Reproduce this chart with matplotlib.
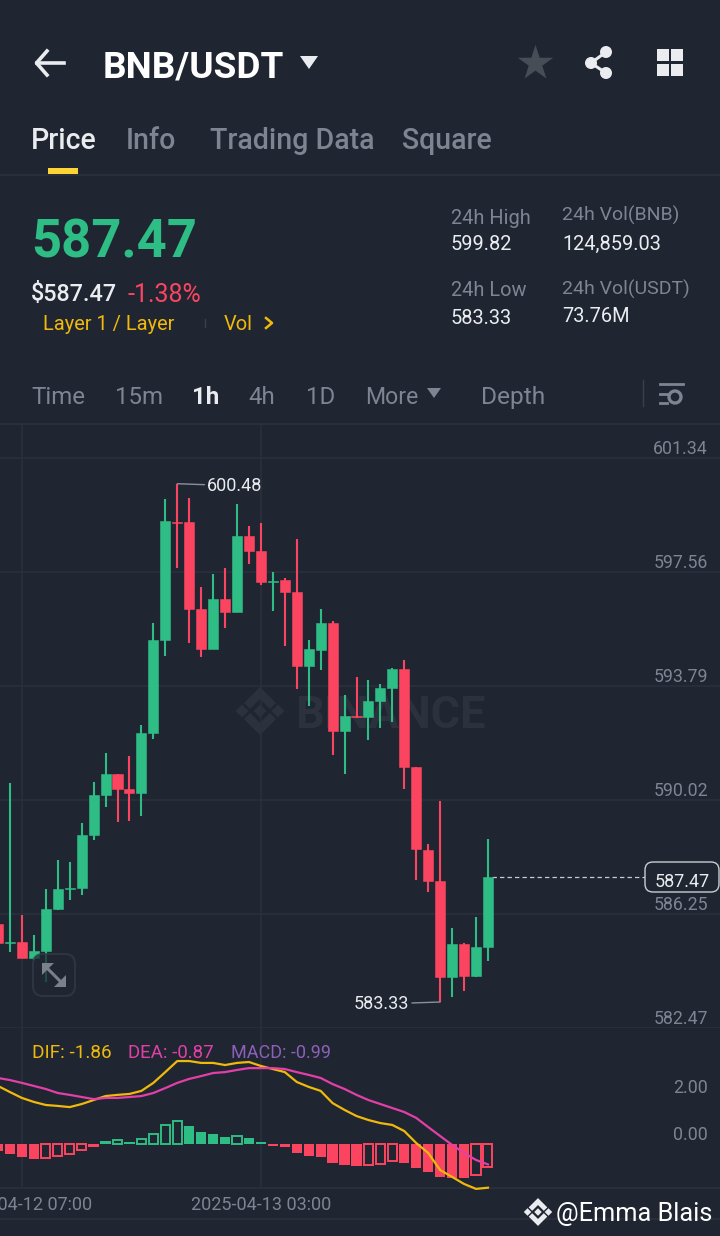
import matplotlib
matplotlib.use("Agg")
import numpy as np
import matplotlib.pyplot as plt
from matplotlib.patches import FancyBboxPatch, Polygon, Circle, Rectangle

# Candles (oldest first)
opens = [585.91, 585.28, 585.32, 584.79, 585.02, 586.41, 587.07, 587.10, 588.86, 590.18, 590.87, 590.38, 590.25, 592.23,
         595.31, 599.21, 599.21, 596.33, 595.01, 596.67, 596.24, 598.75, 598.25, 597.23, 597.29, 596.90, 594.45, 594.98,
         595.87, 592.30, 592.79, 592.76, 593.29, 593.72, 594.35, 591.11, 588.36, 587.33, 584.16, 585.25, 584.19, 585.15]
highs = [586.21, 590.58, 586.21, 585.55, 587.07, 588.03, 587.96, 589.25, 590.61, 591.57, 590.87, 591.47, 592.50, 595.87,
         599.97, 600.48, 600.01, 597.06, 597.49, 597.69, 599.81, 599.08, 599.18, 597.56, 597.36, 598.65, 595.31, 596.33,
         595.94, 593.49, 594.08, 593.99, 593.85, 594.38, 594.65, 591.11, 588.56, 589.98, 585.78, 585.28, 586.14, 588.72]
lows = [584.89, 584.98, 584.79, 584.72, 583.99, 586.37, 586.71, 586.87, 588.69, 589.78, 589.29, 589.32, 589.49, 592.03,
        594.78, 597.69, 595.21, 594.75, 595.01, 595.71, 596.24, 597.82, 597.13, 596.27, 595.11, 593.69, 593.13, 594.32,
        591.50, 590.87, 592.74, 592.00, 592.40, 592.60, 590.38, 587.37, 586.97, 583.33, 583.50, 583.69, 584.16, 584.69]
closes = [585.28, 585.32, 584.79, 585.02, 586.41, 587.07, 587.10, 588.86, 590.18, 590.87, 590.38, 590.25, 592.23, 595.31,
          599.25, 599.18, 596.33, 595.01, 596.67, 596.24, 598.75, 598.25, 597.23, 597.26, 596.90, 594.45, 595.01, 595.87,
          592.30, 592.79, 592.76, 593.29, 593.72, 594.35, 591.11, 588.39, 587.33, 584.16, 585.25, 584.19, 585.15, 587.47]

# MACD panel
dif = [2.47, 2.21, 1.96, 1.79, 1.66, 1.62, 1.57, 1.70, 1.87, 2.04, 2.09, 2.13, 2.26, 2.60, 3.06, 3.53, 3.53, 3.45, 3.45,
       3.36, 3.45, 3.49, 3.32, 3.19, 3.06, 2.64, 2.43, 2.26, 1.74, 1.45, 1.19, 1.02, 0.89, 0.81, 0.55, 0.04, -0.38, -1.11,
       -1.40, -1.70, -1.91, -1.86]
dea = [2.81, 2.72, 2.60, 2.47, 2.34, 2.17, 2.09, 2.00, 1.91, 1.96, 1.96, 2.00, 2.04, 2.17, 2.38, 2.60, 2.77, 2.89, 3.02,
       3.06, 3.15, 3.23, 3.23, 3.23, 3.19, 3.06, 2.94, 2.81, 2.55, 2.34, 2.09, 1.87, 1.70, 1.53, 1.36, 1.11, 0.72, 0.34,
       -0.04, -0.38, -0.68, -0.87]
macd = [-0.28, -0.44, -0.57, -0.62, -0.58, -0.50, -0.44, -0.27, -0.11, 0.13, 0.16, 0.10, 0.23, 0.44, 0.81, 0.96, 0.78,
        0.52, 0.43, 0.28, 0.34, 0.26, 0.08, -0.07, -0.13, -0.40, -0.52, -0.55, -0.79, -0.89, -0.94, -0.91, -0.84, -0.72,
        -0.81, -1.02, -1.18, -1.42, -1.43, -1.45, -1.32, -0.99]
hollow = [4, 5, 6, 7, 10, 12, 13, 14, 15, 20, 31, 32, 33, 40, 41]

price_ticks = [601.34, 597.56, 593.79, 590.02, 586.25, 582.47]
macd_ticks = [2.00, 0.00]
date_ticks = [2, 22]
date_labels = ["2025-04-12 07:00", "2025-04-13 03:00"]

BG = "#1f2631"
GRID = "#2b313c"
GREEN = "#2ebd85"
RED = "#fb4560"
GREY = "#7d8593"
WHITE = "#eaecef"
YELLOW = "#f0b90b"
PINK = "#e33fa8"
FONT = "Roboto"
W, H = 720, 1236


def px(size):
    return size * 0.72


def rect(top, bottom, left=0, right=W):
    return [left / W, 1 - bottom / H, (right - left) / W, (bottom - top) / H]


fig = plt.figure(figsize=(7.2, 12.36), dpi=100, facecolor=BG)
plt.rcParams["font.family"] = [FONT, "DejaVu Sans"]

# back layer in pixel coordinates: header text and watermark
bg = fig.add_axes([0, 0, 1, 1], zorder=0)
bg.set_xlim(0, W)
bg.set_ylim(H, 0)
bg.axis("off")


def label(x, y, s, size, color=GREY, weight="normal", ha="left", target=None):
    (target or bg).text(x, y, s, fontsize=px(size), color=color, fontweight=weight, ha=ha, va="center_baseline")


label(103, 64, "BNB/USDT", 37, "white", "bold")
label(31, 138, "Price", 28.5, WHITE, "medium")
label(126, 138, "Info", 28.5, GREY, "medium")
label(210, 138, "Trading Data", 28.5, GREY, "medium")
label(402, 138, "Square", 28.5, GREY, "medium")
label(31, 238, "587.47", 52.5, GREEN, "bold")
label(31, 292, "$587.47", 23.4, WHITE, "medium")
label(127, 292, "-1.38%", 25, RED)
label(43, 323, "Layer 1 / Layer", 20, YELLOW)
label(224, 323, "Vol", 20, YELLOW)
label(451, 217, "24h High", 20)
label(451, 243, "599.82", 20, WHITE)
label(451, 288, "24h Low", 20)
label(451, 316, "583.33", 20, WHITE)
label(562, 213, "24h Vol(BNB)", 19.5)
label(562, 242, "124,859.03", 20, WHITE)
label(562, 287, "24h Vol(USDT)", 19.5)
label(562, 315, "73.76M", 20, WHITE)
label(31, 395, "Time", 24)
label(115, 395, "15m", 24)
label(192, 395, "1h", 24, WHITE, "bold")
label(248, 395, "4h", 24)
label(306, 395, "1D", 24)
label(365, 395, "More", 23)
label(481, 395, "Depth", 24.5)
label(295, 711, "BINANCE", 45, "#2c323d", "bold")

bg.plot([0, W], [175, 175], color=GRID, lw=1.2)
bg.plot([0, W], [424, 424], color=GRID, lw=1.4)
bg.plot([0, W], [1219, 1219], color=GRID, lw=1.2)
bg.add_patch(Rectangle((48, 168), 30, 6, color="#fcd535", lw=0))
bg.plot([205, 205], [319, 327], color="#3a404b", lw=1)
bg.plot([643, 643], [380, 406], color="#3a404b", lw=1)


def diamond(ax, cx, cy, color, s=1.0):
    # binance style mark: centre and side squares plus two chevrons
    for dx, r in [(0, 6.5), (-18, 6.5), (18, 6.5)]:
        ax.add_patch(Polygon([(cx + s * (dx - r), cy), (cx + s * dx, cy - s * r),
                              (cx + s * (dx + r), cy), (cx + s * dx, cy + s * r)], color=color, lw=0))
    chevron = [(0, -24), (16, -8), (10, -2), (0, -12), (-10, -2), (-16, -8)]
    for sign in (-1, 1):
        ax.add_patch(Polygon([(cx + s * a, cy + s * sign * b) for a, b in chevron], color=color, lw=0))


diamond(bg, 260, 711, "#2c323d", 1.0)

# candles
x = np.arange(len(opens))
left_i = 2 / 11.95
right_i = (W + 2) / 11.95
per_px = 0.03309

ax = fig.add_axes(rect(424, 1028), zorder=1)
ax.patch.set_alpha(0)
ax.set_xlim(left_i, right_i)
ax.set_ylim(582.47, 582.47 + 604 * per_px)
for o, h, l, c, i in zip(opens, highs, lows, closes, x):
    col = GREEN if c >= o else RED
    ax.vlines(i, l, h, color=col, lw=1.5, zorder=3)
    ax.bar(i, abs(c - o), bottom=min(o, c), width=0.84, color=col, edgecolor=col, lw=0.4, zorder=3)
ax.set_yticks(price_ticks)
ax.set_xticks(date_ticks)
ax.grid(color=GRID, lw=1.1)
ax.set_axisbelow(True)
ax.tick_params(length=0, labelleft=False, labelbottom=False)
for s in ax.spines.values():
    s.set_visible(False)
for p in price_ticks:
    ax.text(708 / W, p, f"{p:.2f}", transform=ax.get_yaxis_transform(), ha="right", va="bottom",
            fontsize=px(17.7), color=GREY)
ax.annotate("600.48", xy=(15, 600.48), xytext=(30, 0), textcoords="offset pixels", color=WHITE, fontsize=px(18),
            va="center_baseline", arrowprops=dict(arrowstyle="-", color="#8a919e", lw=1, shrinkA=0, shrinkB=0))
ax.annotate("583.33", xy=(37, 583.33), xytext=(-31, 0), textcoords="offset pixels", color=WHITE, fontsize=px(18),
            va="center_baseline", ha="right", arrowprops=dict(arrowstyle="-", color="#8a919e", lw=1, shrinkA=0, shrinkB=0))
ax.plot([41.3, 54.8], [closes[-1], closes[-1]], color="#c9ccd2", lw=0.9, ls=(0, (3.5, 2.5)))

# MACD panel, 23.5 px per unit and zero at y=1144
pane = fig.add_axes(rect(1028, 1188), zorder=1)
pane.patch.set_alpha(0)
pane.set_xlim(left_i, right_i)
pane.set_ylim((1144 - 1188) / 23.5, (1144 - 1028) / 23.5)
for i, v in enumerate(macd):
    col = GREEN if v >= 0 else RED
    if i in hollow:
        pane.bar(i, v, width=0.76, facecolor="none", edgecolor=col, lw=1.4, zorder=3)
    else:
        pane.bar(i, v, width=0.86, color=col, lw=0, zorder=3)
pane.plot(x, dif, color=YELLOW, lw=1.6, zorder=4, clip_on=False)
pane.plot(x, dea, color=PINK, lw=1.6, zorder=4)
pane.set_xticks(date_ticks)
pane.set_yticks([])
pane.grid(axis="x", color=GRID, lw=1.1)
pane.set_axisbelow(True)
pane.tick_params(length=0, labelleft=False)
pane.set_xticklabels(date_labels, fontsize=px(18), color=GREY)
pane.tick_params(axis="x", pad=6)
for s in pane.spines.values():
    s.set_visible(False)
pane.spines["bottom"].set_visible(True)
pane.spines["bottom"].set_color(GRID)
pane.spines["bottom"].set_linewidth(1.2)
for v in macd_ticks:
    pane.text(708 / W, v, f"{v:.2f}", transform=pane.get_yaxis_transform(), ha="right", va="bottom",
              fontsize=px(17.7), color=GREY)

# top layer: icons, price tag and legend
ov = fig.add_axes([0, 0, 1, 1], zorder=2)
ov.patch.set_alpha(0)
ov.set_xlim(0, W)
ov.set_ylim(H, 0)
ov.axis("off")
label(32, 1051, "DIF: -1.86", 19, YELLOW, target=ov)
label(128, 1051, "DEA: -0.87", 18.7, PINK, target=ov)
label(231, 1051, "MACD: -0.99", 18, "#8e5fb8", target=ov)
label(556, 1212, "@Emma Blais", 25.2, "white", target=ov)
diamond(ov, 538, 1212, WHITE, 0.58)

ov.add_patch(FancyBboxPatch((648, 865), 68, 24, boxstyle="round,pad=3,rounding_size=8", fc=BG, ec="#c9ccd2", lw=1))
label(655, 880, "587.47", 18, WHITE, target=ov)
ov.add_patch(FancyBboxPatch((37, 958), 34, 34, boxstyle="round,pad=4,rounding_size=10", fc=BG, ec="#353b46", lw=1.5,
                            alpha=0.75))
for a, b, sx in [(42, 963, 1), (66, 987, -1)]:
    ov.add_patch(Polygon([(a, b), (a + 12 * sx, b), (a, b + 12 * sx)], color="#7a808c", lw=0))
    ov.plot([a + 3 * sx, a + 11 * sx], [b + 3 * sx, b + 11 * sx], color="#7a808c", lw=2.2)

# header icons
ov.plot([37, 64], [63, 63], color=WHITE, lw=2.6)
ov.plot([47, 36.5, 47], [51, 63, 75], color=WHITE, lw=2.6)
ov.add_patch(Polygon([(300, 56), (318, 56), (309, 69)], color=WHITE, lw=0))
ov.scatter([535], [63], marker="*", s=720, color="#474d57", lw=0)
for cx, cy in [(606, 52), (591, 63), (606, 73)]:
    ov.add_patch(Circle((cx, cy), 6, color=WHITE, lw=0))
ov.plot([606, 591, 606], [52, 63, 73], color=WHITE, lw=2.2)
for a, b in [(657, 49), (671, 49), (657, 64), (671, 64)]:
    ov.add_patch(Rectangle((a, b), 12, 12, color=WHITE, lw=0))
ov.add_patch(Polygon([(427, 388), (441, 388), (434, 398)], color="#7d8593", lw=0))
ov.plot([266, 272, 266], [318, 323, 328], color=YELLOW, lw=1.8)
# settings glyph
ov.plot([660, 683], [384, 384], color=GREY, lw=2)
ov.plot([660, 667], [394, 394], color=GREY, lw=2)
ov.plot([660, 667], [403, 403], color=GREY, lw=2)
ov.add_patch(Circle((675, 397), 6, fc="none", ec=GREY, lw=2.4))

fig.savefig("out.png", dpi=100, facecolor=BG)
